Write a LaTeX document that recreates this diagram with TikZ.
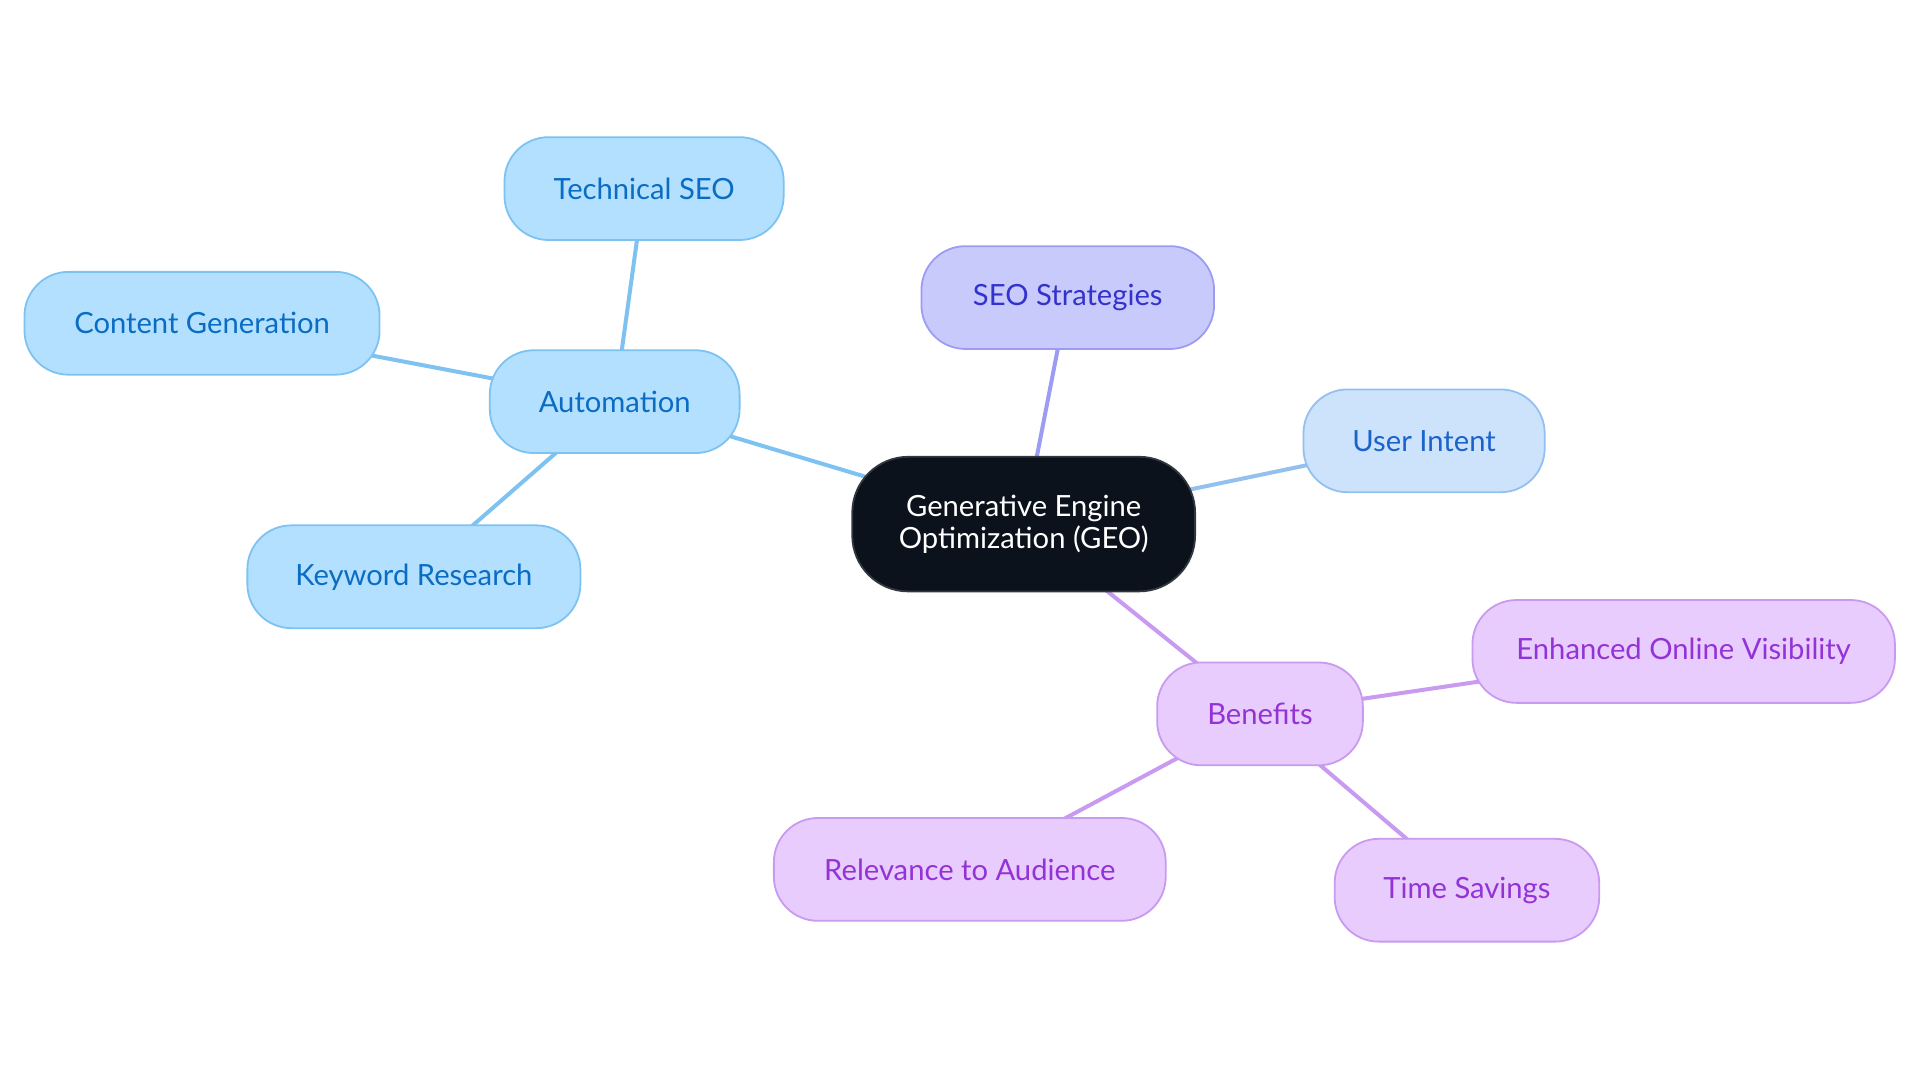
\documentclass[tikz,border=0pt]{standalone}
\usepackage{fontspec}
\setmainfont{Lato}
\usetikzlibrary{backgrounds}

\definecolor{autofill}{HTML}{B3E0FF}
\definecolor{autodraw}{HTML}{7EC2F2}
\definecolor{autotext}{HTML}{0A6CC2}
\definecolor{seofill}{HTML}{C9CAFC}
\definecolor{seodraw}{HTML}{9C9CF2}
\definecolor{seotext}{HTML}{3333CC}
\definecolor{userfill}{HTML}{CCE3FB}
\definecolor{userdraw}{HTML}{94C0F0}
\definecolor{usertext}{HTML}{1A62CC}
\definecolor{benfill}{HTML}{E8CCFD}
\definecolor{bendraw}{HTML}{C89AF0}
\definecolor{bentext}{HTML}{9333D6}
\definecolor{geofill}{HTML}{0C121B}
\definecolor{geodraw}{HTML}{333840}

\begin{document}
\begin{tikzpicture}[x=0.6122pt,y=-0.6122pt,
    pill/.style={rounded corners=22pt,line width=0.9pt,minimum height=51.4pt,inner sep=0pt,font=\fontsize{14.6pt}{16pt}\selectfont,align=center},
    autonode/.style={pill,fill=autofill,draw=autodraw,text=autotext},
    seonode/.style={pill,fill=seofill,draw=seodraw,text=seotext},
    usernode/.style={pill,fill=userfill,draw=userdraw,text=usertext},
    bennode/.style={pill,fill=benfill,draw=bendraw,text=bentext},
    geonode/.style={pill,rounded corners=28pt,fill=geofill,draw=geodraw,text=white,minimum height=67.3pt},
    link/.style={line width=2pt}]
    \pgfmathsetmacro{\px}{0.6122}
    \useasboundingbox (0,0) rectangle (1568,884.4);
    % centre
    \node[geonode,minimum width=280*\px pt] (geo) at (836,428) {Generative Engine\\Optimization (GEO)};
    % automation branch
    \node[autonode,minimum width=204*\px pt] (auto) at (502,328) {Automation};
    \node[autonode,minimum width=228*\px pt] (tech) at (526,154) {Technical SEO};
    \node[autonode,minimum width=290*\px pt] (content) at (165,264) {Content Generation};
    \node[autonode,minimum width=272*\px pt] (keyword) at (338,471) {Keyword Research};
    % single leaves
    \node[seonode,minimum width=239*\px pt] (seo) at (872,243) {SEO Strategies};
    \node[usernode,minimum width=197*\px pt] (user) at (1163,360) {User Intent};
    % benefits branch
    \node[bennode,minimum width=168*\px pt] (ben) at (1029,583) {Benefits};
    \node[bennode,minimum width=345*\px pt] (vis) at (1375,532) {Enhanced Online Visibility};
    \node[bennode,minimum width=320*\px pt] (rel) at (792,710) {Relevance to Audience};
    \node[bennode,minimum width=216*\px pt] (time) at (1198,727) {Time Savings};
    \begin{scope}[on background layer]
        \draw[link,autodraw] (geo.center) -- (auto.center);
        \draw[link,autodraw] (auto.center) -- (tech.center);
        \draw[link,autodraw] (auto.center) -- (content.center);
        \draw[link,autodraw] (auto.center) -- (keyword.center);
        \draw[link,seodraw] (geo.center) -- (seo.center);
        \draw[link,userdraw] (geo.center) -- (user.center);
        \draw[link,bendraw] (geo.center) -- (ben.center);
        \draw[link,bendraw] (ben.center) -- (vis.center);
        \draw[link,bendraw] (ben.center) -- (rel.center);
        \draw[link,bendraw] (ben.center) -- (time.center);
    \end{scope}
\end{tikzpicture}
\end{document}
